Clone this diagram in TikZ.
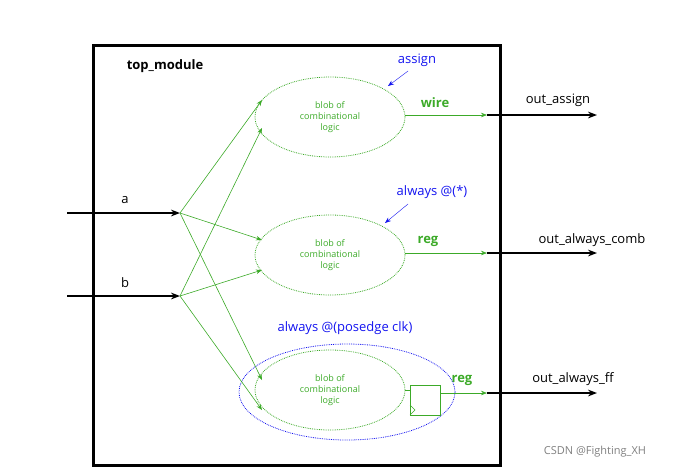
\documentclass[tikz,border=0pt]{standalone}
\usepackage{fontspec}
\setmainfont{Open Sans}
\usetikzlibrary{arrows.meta,shapes.geometric}
\definecolor{gr}{RGB}{60,170,40}
\definecolor{bl}{RGB}{20,20,240}
\begin{document}
\begin{tikzpicture}[x=1pt,y=-1pt,
 blob/.style={draw=gr,densely dotted,thick,ellipse,minimum width=150pt,minimum height=80pt,align=center,font=\fontsize{9}{11}\selectfont,text=gr},
 garr/.style={gr,semithick,-{Stealth[length=6pt]}},
 barr/.style={black,line width=1.6pt,-{Stealth[length=9pt]}},
 lbl/.style={font=\fontsize{13}{15}\selectfont},
 blab/.style={font=\fontsize{13}{15}\selectfont,text=bl},
 glab/.style={font=\bfseries\fontsize{13}{15}\selectfont,text=gr}]
\useasboundingbox (0,0) rectangle (692,472);
\draw[line width=3pt] (93,45) rectangle (500,465);
\node[font=\bfseries\fontsize{13}{15}\selectfont] (top) at (165,66) {top\_module};
\node[blob] (e1) at (330,117) {blob of\\combinational\\logic};
\node[blob] (e2) at (330,255) {blob of\\combinational\\logic};
\node[blob] (e3) at (330,390) {blob of\\combinational\\logic};
\draw[bl,densely dotted,thick] (347,392) ellipse (108 and 48);
\coordinate (ain) at (67,213); \coordinate (a) at (180,213);
\coordinate (bin) at (67,296); \coordinate (b) at (180,296);
\draw[barr] (ain) -- (a); \draw[barr] (bin) -- (b);
\node[lbl] at (125,200) {a}; \node[lbl] at (125,283) {b};
\draw[garr] (a) -- (262,100); \draw[garr] (a) -- (262,240); \draw[garr] (a) -- (262,380);
\draw[garr] (b) -- (262,128); \draw[garr] (b) -- (262,270); \draw[garr] (b) -- (262,410);
\coordinate (o1) at (487,115); \coordinate (O1) at (597,115);
\coordinate (o2) at (487,253); \coordinate (O2) at (597,253);
\coordinate (o3) at (487,393); \coordinate (O3) at (597,393);
\draw[garr] (405,115) -- (o1); \draw[barr] (o1) -- (O1);
\draw[garr] (405,253) -- (o2); \draw[barr] (o2) -- (O2);
\draw[gr,semithick] (405,390) -- (410,390);
\draw[gr,semithick] (410,385) rectangle (440,415);
\draw[gr,semithick] (410,405) -- (415,410) -- (410,415);
\draw[garr] (440,393) -- (o3); \draw[barr] (o3) -- (O3);
\node[glab] at (435,103) {wire};
\node[glab] at (428,241) {reg};
\node[glab] at (462,380) {reg};
\node[lbl] at (558,100) {out\_assign};
\node[lbl] at (592,240) {out\_always\_comb};
\node[lbl] at (573,379) {out\_always\_ff};
\node[blab] (s1) at (417,60) {assign};
\draw[bl,-{Stealth[length=6pt]}] (408,71) -- (388,86);
\node[blab] (s2) at (432,192) {always @(*)};
\draw[bl,-{Stealth[length=6pt]}] (408,204) -- (385,223);
\node[blab] (s3) at (345,328) {always @(posedge clk)};
\node[text=gray,font=\fontsize{11}{13}\selectfont] at (595,452) {CSDN @Fighting\_XH};
\end{tikzpicture}
\end{document}
